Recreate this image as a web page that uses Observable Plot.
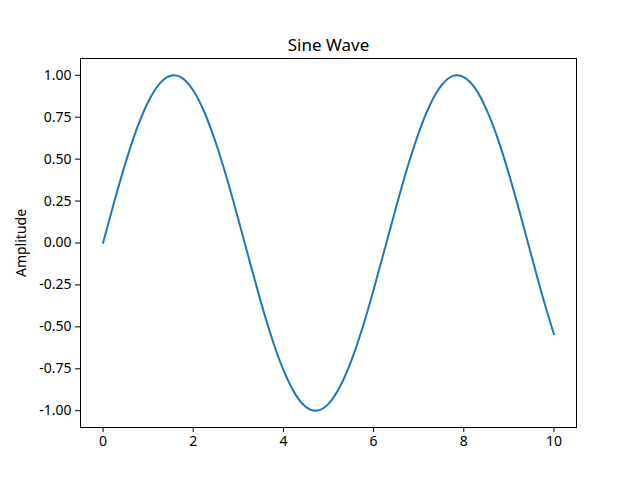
<!DOCTYPE html>
<html>
<head>
<meta charset="utf-8">
<script src="https://cdn.jsdelivr.net/npm/d3@7"></script>
<script src="https://cdn.jsdelivr.net/npm/@observablehq/plot@0.6"></script>
<style>
  html, body { margin: 0; padding: 0; background: #fff; }
  svg { display: block; }
</style>
</head>
<body>
<div id="chart"></div>
<script>
const title = "Sine Wave";
const yLabel = "Amplitude";
const xValues = [0, 0.25, 0.5, 0.75, 1, 1.25, 1.5, 1.75, 2, 2.25, 2.5, 2.75, 3, 3.25, 3.5, 3.75, 4, 4.25, 4.5, 4.75, 5, 5.25, 5.5, 5.75, 6, 6.25, 6.5, 6.75, 7, 7.25, 7.5, 7.75, 8, 8.25, 8.5, 8.75, 9, 9.25, 9.5, 9.75, 10];
const yValues = [0, 0.247, 0.479, 0.682, 0.841, 0.949, 0.997, 0.984, 0.909, 0.778, 0.598, 0.382, 0.141, -0.108, -0.351, -0.572, -0.757, -0.895, -0.978, -0.999, -0.959, -0.859, -0.706, -0.510, -0.279, -0.033, 0.215, 0.450, 0.657, 0.823, 0.938, 0.995, 0.989, 0.923, 0.798, 0.625, 0.412, 0.174, -0.075, -0.320, -0.544];
const xTicks = [0, 2, 4, 6, 8, 10];
const yTicks = [-1, -0.75, -0.5, -0.25, 0, 0.25, 0.5, 0.75, 1];

const data = xValues.map((x, i) => ({x, y: yValues[i]}));

const chart = Plot.plot({
  width: 640,
  height: 480,
  marginLeft: 80,
  marginRight: 64,
  marginTop: 58,
  marginBottom: 53,
  style: {fontFamily: "Noto Sans", fontSize: "14px", color: "#000", background: "#fff"},
  x: {domain: [-0.5, 10.5]},
  y: {domain: [-1.1, 1.1]},
  marks: [
    Plot.axisX({ticks: xTicks, tickSize: 5, tickPadding: 4, label: null, fontSize: 14}),
    Plot.axisY({ticks: yTicks, tickSize: 5, tickPadding: 4, tickFormat: d => d.toFixed(2).replace("\u2212", "-"), label: yLabel, labelAnchor: "center", labelOffset: 64, labelArrow: "none", fontSize: 14}),
    Plot.line(data, {x: "x", y: "y", stroke: "#1f77b4", strokeWidth: 2, curve: "natural"}),
    Plot.frame({stroke: "#000", strokeWidth: 1}),
    Plot.text([title], {frameAnchor: "top", lineAnchor: "bottom", dy: -8, fontSize: 17, fill: "#000"})
  ]
});
document.getElementById("chart").appendChild(chart);
</script>
</body>
</html>
